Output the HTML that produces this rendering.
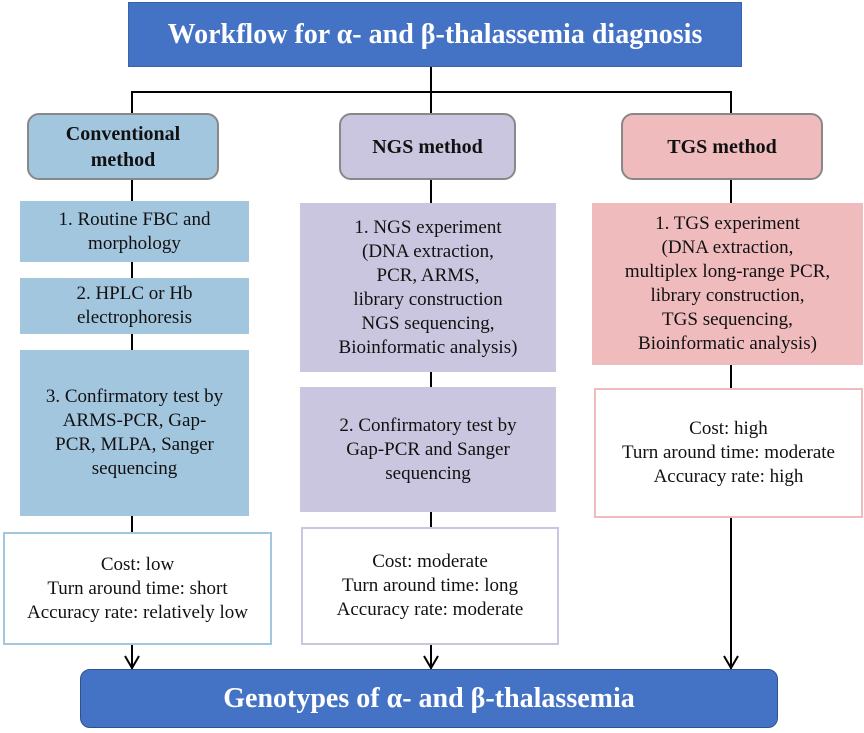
<!DOCTYPE html>
<html><head><style>
body{margin:0;width:864px;height:733px;background:#fff;position:relative;overflow:hidden;font-family:"Liberation Serif",serif;}
.b{position:absolute;box-sizing:border-box;display:flex;align-items:center;justify-content:center;text-align:center;color:#111;font-size:19px;line-height:24px;}
.l{position:absolute;background:#000;}
</style></head><body>
<div class="b" style="left:128px;top:2px;width:614px;height:65px;background:#4472C4;border:1px solid #3a62a8;color:#fff;font-weight:bold;font-size:28px;">Workflow for α- and β-thalassemia diagnosis</div>
<div class="l" style="left:430px;top:67px;width:2px;height:48px"></div>
<div class="l" style="left:132px;top:91px;width:600px;height:2px"></div>
<div class="l" style="left:131px;top:91px;width:2px;height:580px"></div>
<div class="l" style="left:430px;top:91px;width:2px;height:580px"></div>
<div class="l" style="left:730px;top:91px;width:2px;height:580px"></div>

<div class="b" style="left:27px;top:113px;width:192px;height:67px;background:#A3C6DF;border:2px solid #888;border-radius:12px;font-weight:bold;font-size:20px;line-height:26px;">Conventional<br>method</div>
<div class="b" style="left:339px;top:113px;width:177px;height:67px;background:#CBC6DF;border:2px solid #888;border-radius:12px;font-weight:bold;font-size:20px;">NGS method</div>
<div class="b" style="left:621px;top:113px;width:202px;height:67px;background:#EFBBBD;border:2px solid #888;border-radius:12px;font-weight:bold;font-size:20px;">TGS method</div>

<div class="b" style="left:20px;top:201px;width:229px;height:61px;background:#A3C6DF;">1. Routine FBC and<br>morphology</div>
<div class="b" style="left:20px;top:278px;width:229px;height:56px;background:#A3C6DF;">2. HPLC or Hb<br>electrophoresis</div>
<div class="b" style="left:20px;top:350px;width:229px;height:166px;background:#A3C6DF;">3. Confirmatory test by<br>ARMS-PCR, Gap-<br>PCR, MLPA, Sanger<br>sequencing</div>
<div class="b" style="left:3px;top:532px;width:269px;height:113px;background:#fff;border:2px solid #A3C6DF;">Cost: low<br>Turn around time: short<br>Accuracy rate: relatively low</div>

<div class="b" style="left:300px;top:203px;width:256px;height:169px;background:#CBC6DF;">1. NGS experiment<br>(DNA extraction,<br>PCR, ARMS,<br>library construction<br>NGS sequencing,<br>Bioinformatic analysis)</div>
<div class="b" style="left:300px;top:387px;width:256px;height:125px;background:#CBC6DF;">2. Confirmatory test by<br>Gap-PCR and Sanger<br>sequencing</div>
<div class="b" style="left:301px;top:527px;width:258px;height:118px;background:#fff;border:2px solid #CBC6DF;">Cost: moderate<br>Turn around time: long<br>Accuracy rate: moderate</div>

<div class="b" style="left:592px;top:203px;width:271px;height:162px;background:#EFBBBD;">1. TGS experiment<br>(DNA extraction,<br>multiplex long-range PCR,<br>library construction,<br>TGS sequencing,<br>Bioinformatic analysis)</div>
<div class="b" style="left:594px;top:388px;width:269px;height:130px;background:#fff;border:2px solid #EFBBBD;">Cost: high<br>Turn around time: moderate<br>Accuracy rate: high</div>

<svg style="position:absolute;left:0;top:0" width="864" height="733">
<g stroke="#000" stroke-width="2" fill="none">
<polyline points="125,656 132,668 139,656"/>
<polyline points="424,656 431,668 438,656"/>
<polyline points="724,656 731,668 738,656"/>
</g></svg>
<div class="b" style="left:80px;top:669px;width:698px;height:59px;background:#4472C4;border:1px solid #2f528f;border-radius:10px;color:#fff;font-weight:bold;font-size:28px;">Genotypes of α- and β-thalassemia</div>
</body></html>
